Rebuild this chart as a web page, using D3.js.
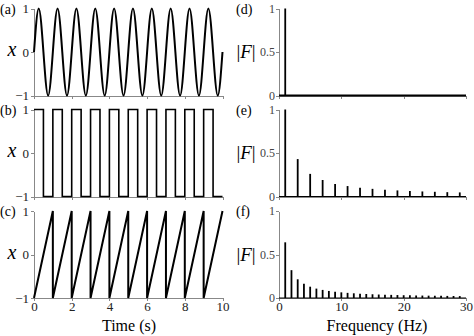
<!DOCTYPE html>
<html>
<head>
<meta charset="utf-8">
<title>signals and spectra</title>
<script src="https://cdn.jsdelivr.net/npm/d3@7"></script>
<style>
  body { margin: 0; background: white; }
  .axis path, .axis line { fill: none; stroke: #888; stroke-width: 1; shape-rendering: crispEdges; }
</style>
</head>
<body>
<script>
// --- data ---
// sine: zero crossings and peaks at every quarter second
var sineT = [0,0.25,0.5,0.75,1,1.25,1.5,1.75,2,2.25,2.5,2.75,3,3.25,3.5,3.75,4,4.25,4.5,4.75,
             5,5.25,5.5,5.75,6,6.25,6.5,6.75,7,7.25,7.5,7.75,8,8.25,8.5,8.75,9,9.25,9.5,9.75,10];
var sineX = [0,1,0,-1,0,1,0,-1,0,1,0,-1,0,1,0,-1,0,1,0,-1,
             0,1,0,-1,0,1,0,-1,0,1,0,-1,0,1,0,-1,0,1,0,-1,0];
// square: level held from each switch time
var squareT = [0,0.5,1,1.5,2,2.5,3,3.5,4,4.5,5,5.5,6,6.5,7,7.5,8,8.5,9,9.5,10];
var squareX = [1,-1,1,-1,1,-1,1,-1,1,-1,1,-1,1,-1,1,-1,1,-1,1,-1,-1];
// sawtooth corners
var sawT = [0,1,1,2,2,3,3,4,4,5,5,6,6,7,7,8,8,9,9,10];
var sawX = [-1,1,-1,1,-1,1,-1,1,-1,1,-1,1,-1,1,-1,1,-1,1,-1,1];

// spectra
var sineF = [1];
var sineMag = [1];
var squareF = [1,3,5,7,9,11,13,15,17,19,21,23,25,27,29];
var squareMag = [1,0.43,0.26,0.19,0.145,0.12,0.10,0.088,0.078,0.07,0.064,0.058,0.054,0.05,0.047];
var sawF = [1,2,3,4,5,6,7,8,9,10,11,12,13,14,15,16,17,18,19,20,21,22,23,24,25,26,27,28,29];
var sawMag = [0.64,0.32,0.215,0.163,0.13,0.108,0.093,0.081,0.072,0.065,0.059,0.054,0.05,0.046,0.043,
              0.04,0.038,0.036,0.034,0.032,0.031,0.029,0.028,0.027,0.026,0.025,0.024,0.023,0.022];

var timeTicks = [0,2,4,6,8,10];
var freqTicks = [0,10,20,30];
var xTicks = [-1,0,1];
var fTicks = [0,0.5,1];
var leftLabels = ["(a)","(b)","(c)"];
var rightLabels = ["(d)","(e)","(f)"];

var serif = "Liberation Serif, Tinos, Times New Roman, DejaVu Serif, serif";
var w = 474, h = 336;
var rowTop = [8.5, 109.5, 211];
var rowH = 87;

var svg = d3.select("body").append("svg")
    .attr("width", w)
    .attr("height", h);

var tScale = d3.scaleLinear().domain([0, 10]).range([34, 222.5]);
var fScale = d3.scaleLinear().domain([0, 30]).range([279, 466]);

var signals = [
  {t: sineT, x: sineX, curve: d3.curveNatural, width: 2},
  {t: squareT, x: squareX, curve: d3.curveStepAfter, width: 1.6},
  {t: sawT, x: sawX, curve: d3.curveLinear, width: 2}
];
var spectra = [
  {f: sineF, m: sineMag},
  {f: squareF, m: squareMag},
  {f: sawF, m: sawMag}
];

function styleAxis(a, size) {
  a.attr("font-family", serif);
  a.selectAll("text")
      .style("font-family", serif)
      .style("font-size", size)
      .attr("fill", "#222");
}

function label(sel, x, y, size, txt) {
  return sel.append("text")
      .attr("x", x).attr("y", y)
      .style("font-family", serif)
      .style("font-size", size)
      .text(txt);
}

signals.forEach(function(s, i) {
  var y = d3.scaleLinear().domain([-1, 1]).range([rowTop[i] + rowH, rowTop[i]]);
  var g = svg.append("g");

  var xa = g.append("g")
      .attr("class", "axis")
      .attr("transform", "translate(0," + y(-1) + ")")
      .call(d3.axisBottom(tScale).tickValues(timeTicks).tickSize(3).tickPadding(2).tickSizeOuter(0));
  styleAxis(xa, "13px");
  xa.selectAll("text").attr("dy", "0.6em");
  if (i < 2) xa.selectAll("text").remove();

  var ya = g.append("g")
      .attr("class", "axis")
      .attr("transform", "translate(" + tScale(0) + ",0)")
      .call(d3.axisLeft(y).tickValues(xTicks).tickFormat(d3.format("d")).tickSize(3).tickPadding(2).tickSizeOuter(0));
  styleAxis(ya, "13px");

  var pts = s.t.map(function(t, k) { return [t, s.x[k]]; });
  g.append("path")
      .datum(pts)
      .attr("fill", "none")
      .attr("stroke", "black")
      .attr("stroke-width", s.width)
      .attr("d", d3.line()
        .x(function(d) { return tScale(d[0]); })
        .y(function(d) { return y(d[1]); })
        .curve(s.curve));

  label(g, 12, y(0) + 4, "20px", "x")
      .attr("text-anchor", "middle")
      .style("font-style", "italic");

  label(g, 0, rowTop[i] + 5, "14px", leftLabels[i]);
});

spectra.forEach(function(s, i) {
  var y = d3.scaleLinear().domain([0, 1]).range([rowTop[i] + rowH, rowTop[i]]);
  var g = svg.append("g");

  var xa = g.append("g")
      .attr("class", "axis")
      .attr("transform", "translate(0," + y(0) + ")")
      .call(d3.axisBottom(fScale).tickValues(freqTicks).tickSize(3).tickPadding(2).tickSizeOuter(0));
  styleAxis(xa, "13px");
  xa.selectAll("text").attr("dy", "0.6em");
  if (i < 2) xa.selectAll("text").remove();

  var ya = g.append("g")
      .attr("class", "axis")
      .attr("transform", "translate(" + fScale(0) + ",0)")
      .call(d3.axisLeft(y).tickValues(fTicks).tickFormat(d3.format("")).tickSize(3).tickPadding(1).tickSizeOuter(0));
  styleAxis(ya, "12px");
  ya.selectAll("text").attr("fill", "#444");

  // baseline of the spectrum
  g.append("line")
      .attr("x1", fScale(0)).attr("x2", fScale(30))
      .attr("y1", y(0)).attr("y2", y(0))
      .attr("stroke", "black")
      .attr("stroke-width", i === 0 ? 2 : 1.2);

  g.selectAll(".stem")
      .data(s.f)
      .enter().append("line")
      .attr("class", "stem")
      .attr("x1", function(d) { return fScale(d); })
      .attr("x2", function(d) { return fScale(d); })
      .attr("y1", y(0))
      .attr("y2", function(d, k) { return y(s.m[k]); })
      .attr("stroke", "black")
      .attr("stroke-width", 1.8);

  var lab = label(g, 246, y(0.5) + 6, "19px", "")
      .attr("text-anchor", "middle");
  lab.append("tspan").text("|");
  lab.append("tspan").style("font-style", "italic").text("F");
  lab.append("tspan").text("|");

  label(g, 236, rowTop[i] + 5, "14px", rightLabels[i]);
});

label(svg, 129, 331, "16px", "Time (s)").attr("text-anchor", "middle");
label(svg, 377, 331, "16px", "Frequency (Hz)").attr("text-anchor", "middle");
</script>
</body>
</html>
